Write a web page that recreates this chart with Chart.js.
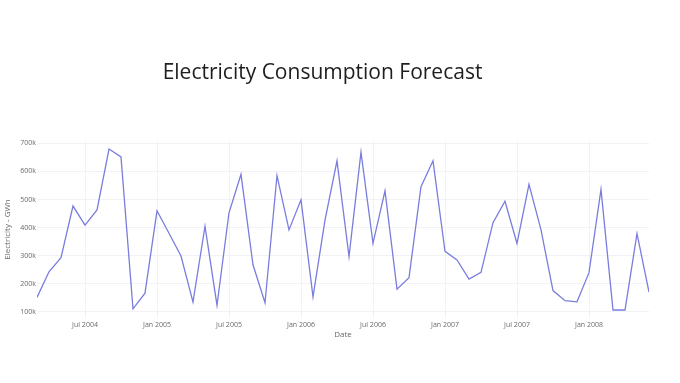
<!DOCTYPE html>
<html>
<head>
<meta charset="utf-8">
<script src="https://cdn.jsdelivr.net/npm/chart.js@4"></script>
<style>
  html, body { margin: 0; padding: 0; background: #ffffff; }
  #wrap { position: relative; width: 680px; height: 383px; }
</style>
</head>
<body>
<div id="wrap"><canvas id="c" width="680" height="383"></canvas></div>
<script>
// ---- data ----
const titleText = "Electricity Consumption Forecast";
const xAxisTitle = "Date";
const yAxisTitle = "Electricity - GWh";
const dates = [
  "2004-03","2004-04","2004-05","2004-06","2004-07","2004-08","2004-09","2004-10","2004-11","2004-12",
  "2005-01","2005-02","2005-03","2005-04","2005-05","2005-06","2005-07","2005-08","2005-09","2005-10",
  "2005-11","2005-12","2006-01","2006-02","2006-03","2006-04","2006-05","2006-06","2006-07","2006-08",
  "2006-09","2006-10","2006-11","2006-12","2007-01","2007-02","2007-03","2007-04","2007-05","2007-06",
  "2007-07","2007-08","2007-09","2007-10","2007-11","2007-12","2008-01","2008-02","2008-03","2008-04",
  "2008-05","2008-06"
];
const consumption = [
  152000,243000,293000,477000,409000,463000,680000,652000,111000,167000,
  460000,380000,299000,135000,405000,124000,453000,590000,268000,133000,
  585000,392000,499000,154000,427000,638000,297000,669000,344000,531000,
  181000,222000,546000,638000,316000,285000,217000,241000,418000,494000,
  344000,554000,392000,176000,140000,136000,240000,536000,107000,107000,
  379000,171000
];
const xTickDates = ["2004-07","2005-01","2005-07","2006-01","2006-07","2007-01","2007-07","2008-01"];
const yTickValues = [100000,200000,300000,400000,500000,600000,700000];
const monthNames = ["Jan","Feb","Mar","Apr","May","Jun","Jul","Aug","Sep","Oct","Nov","Dec"];

// month index since Jan 2004
function monthIndex(s) {
  const [y, m] = s.split("-").map(Number);
  return (y - 2004) * 12 + (m - 1);
}
function monthLabel(i) {
  return monthNames[((i % 12) + 12) % 12] + " " + (2004 + Math.floor(i / 12));
}
const points = dates.map((d, i) => ({ x: monthIndex(d), y: consumption[i] }));

const fontFamily = "'Open Sans', 'Noto Sans', sans-serif";

const titlePlugin = {
  id: 'plotTitle',
  afterDraw(chart) {
    const ctx = chart.ctx;
    ctx.save();
    ctx.font = "21px " + fontFamily;
    ctx.fillStyle = "#1e1e1e";
    ctx.textAlign = "center";
    ctx.textBaseline = "alphabetic";
    ctx.fillText(titleText, 322.5, 79);
    ctx.restore();
  }
};

new Chart(document.getElementById('c'), {
  type: 'line',
  data: {
    datasets: [{
      data: points,
      borderColor: 'rgb(122,125,222)',
      borderWidth: 1.3,
      pointRadius: 0,
      tension: 0,
      fill: false
    }]
  },
  options: {
    responsive: false,
    animation: false,
    layout: { padding: { left: 0, right: 31, top: 141, bottom: 0 } },
    plugins: {
      legend: { display: false },
      tooltip: { enabled: false },
      title: { display: false }
    },
    scales: {
      x: {
        type: 'linear',
        min: monthIndex(dates[0]),
        max: monthIndex(dates[dates.length - 1]),
        afterFit(scale) { scale.height = 65; },
        afterBuildTicks(scale) { scale.ticks = xTickDates.map(d => ({ value: monthIndex(d) })); },
        grid: { color: '#f1f2f6', lineWidth: 1, drawTicks: false },
        border: { display: false },
        ticks: {
          autoSkip: false,
          maxRotation: 0,
          padding: 3,
          color: '#6a6a6a',
          font: { family: fontFamily, size: 7 },
          callback: (v) => monthLabel(v)
        },
        title: {
          display: true,
          text: xAxisTitle,
          color: '#6a6a6a',
          font: { family: fontFamily, size: 8 },
          padding: { top: 0, bottom: 43 }
        }
      },
      y: {
        type: 'linear',
        min: 78500,
        max: 708500,
        afterFit(scale) { scale.width = 37; },
        afterBuildTicks(scale) { scale.ticks = yTickValues.map(v => ({ value: v })); },
        grid: { color: '#f1f2f6', lineWidth: 1, drawTicks: false },
        border: { display: false },
        ticks: {
          padding: 1,
          color: '#6a6a6a',
          font: { family: fontFamily, size: 7 },
          callback: (v) => (v / 1000) + 'k'
        },
        title: {
          display: true,
          text: yAxisTitle,
          color: '#6a6a6a',
          font: { family: fontFamily, size: 8 },
          padding: { top: 3, bottom: 0 }
        }
      }
    }
  },
  plugins: [titlePlugin]
});
</script>
</body>
</html>
